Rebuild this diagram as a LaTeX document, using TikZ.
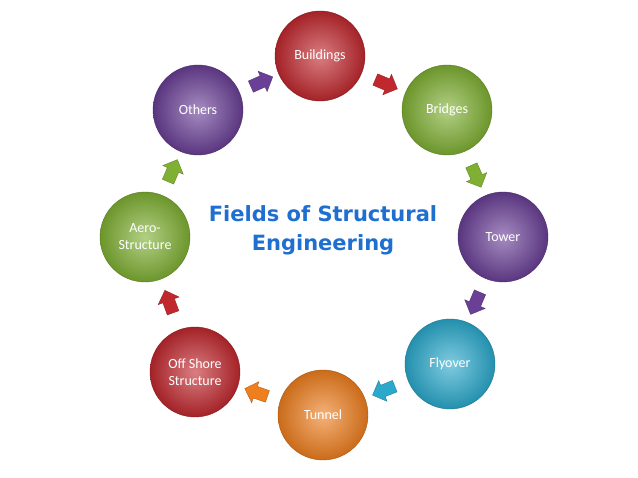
\documentclass[tikz,border=0pt]{standalone}
\usepackage{fontspec}
\setmainfont{Carlito}
\newfontfamily\titlefont{DejaVu Sans}
\usetikzlibrary{shapes.arrows,calc}
\definecolor{cred}{HTML}{C0282E}
\definecolor{cgreen}{HTML}{7FB033}
\definecolor{cpurple}{HTML}{6A3F96}
\definecolor{ccyan}{HTML}{2AA9CC}
\definecolor{corange}{HTML}{EE7E1E}
\definecolor{ctitle}{HTML}{1F6FD0}
\tikzset{
  ballnode/.style={circle, minimum size=90pt, inner sep=0pt, align=center, text=white, font=\fontsize{14}{17}\selectfont,
    inner color=#1!60!white, outer color=#1!85!black, draw=#1!70!black, line width=0.4pt},
  blockarrow/.style={single arrow, single arrow head extend=5pt, minimum height=24pt, inner xsep=0pt, inner ysep=6pt,
    fill=#1, draw=#1!70!black, line width=0.3pt}
}
\begin{document}
\begin{tikzpicture}[x=1pt,y=-1pt]
\useasboundingbox (0,0) rectangle (638,478);
\fill[white] (0,0) rectangle (638,478);
\node[ballnode=cred] (bu) at (320,56) {Buildings};
\node[ballnode=cgreen] (br) at (447,110) {Bridges};
\node[ballnode=cpurple] (to) at (503,237) {Tower};
\node[ballnode=ccyan] (fl) at (450,364) {Flyover};
\node[ballnode=corange] (tu) at (323,415) {Tunnel};
\node[ballnode=cred] (of) at (195,372) {Off Shore\\Structure};
\node[ballnode=cgreen] (ae) at (145,237) {Aero-\\Structure};
\node[ballnode=cpurple] (ot) at (198,110) {Others};
\node[blockarrow=cred, rotate=-23] (a1) at ($(bu)!0.5!(br)$) {};
\node[blockarrow=cgreen, rotate=-66] (a2) at ($(br)!0.5!(to)$) {};
\node[blockarrow=cpurple, rotate=-113] (a3) at ($(to)!0.5!(fl)$) {};
\node[blockarrow=ccyan, rotate=-158] (a4) at ($(fl)!0.5!(tu)$) {};
\node[blockarrow=corange, rotate=161] (a5) at ($(tu)!0.5!(of)$) {};
\node[blockarrow=cred, rotate=110] (a6) at ($(of)!0.5!(ae)$) {};
\node[blockarrow=cgreen, rotate=67] (a7) at ($(ae)!0.5!(ot)$) {};
\node[blockarrow=cpurple, rotate=24] (a8) at ($(ot)!0.5!(bu)$) {};
\node[align=center, text=ctitle, font=\titlefont\bfseries\fontsize{21}{29}\selectfont] (title) at (323,230) {Fields of Structural\\Engineering};
\end{tikzpicture}
\end{document}
